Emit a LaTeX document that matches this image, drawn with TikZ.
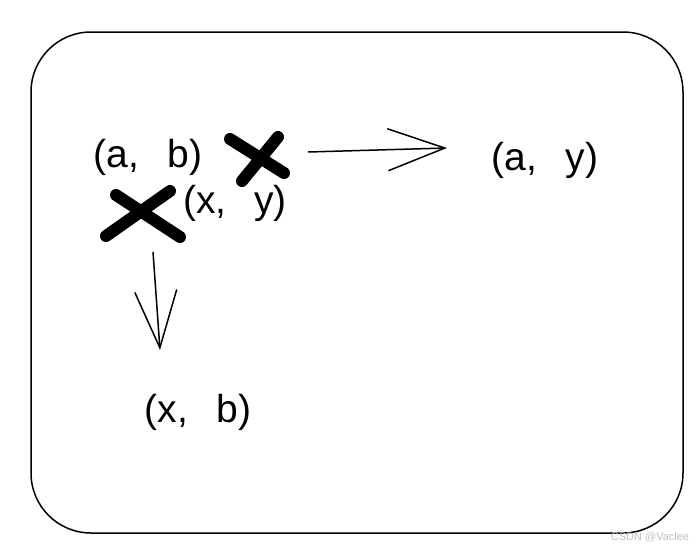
\documentclass[tikz,border=0pt]{standalone}
\usepackage{fontspec}
\setmainfont{Liberation Sans}
\usetikzlibrary{arrows.meta}
\tikzset{
  lbl/.style={inner sep=0pt, font=\fontsize{39}{44}\selectfont},
  box/.style={draw, line width=1.5pt, rounded corners=60pt},
  crossline/.style={line width=12pt, line cap=round},
  arr/.style={line width=1.5pt, -{Straight Barb[length=57pt, width=42pt, line width=1.5pt]}}
}
\newcommand{\cm}[2]{(#1,\hspace{0.72em}#2)}
\begin{document}
\begin{tikzpicture}[x=1pt, y=-1pt]
\useasboundingbox (0,0) rectangle (699,549);
\draw[box] (31,32) rectangle (683,533);
\node[lbl] (ab) at (148,157) {\cm{a}{b}};
\node[lbl] (xy) at (235,203) {\cm{x}{y}};
\node[lbl] (ay) at (545,160) {\cm{a}{y}};
\node[lbl] (xb) at (198,412) {\cm{x}{b}};
% crosses
\draw[crossline] (230,139) -- (284,173);
\draw[crossline] (278,137) -- (242,181);
\draw[crossline] (106,236) -- (170,191);
\draw[crossline] (116,195) -- (180,237);
% arrows
\coordinate (r1) at (308,152);
\coordinate (r2) at (447,148);
\coordinate (d1) at (153,252);
\coordinate (d2) at (160,350);
\draw[arr] (r1) -- (r2);
\draw[arr] (d1) -- (d2);
\node[inner sep=0pt, text=black!25, font=\fontsize{11}{12}\selectfont] (wm) at (650,537) {CSDN @Vaclee};
\end{tikzpicture}
\end{document}
